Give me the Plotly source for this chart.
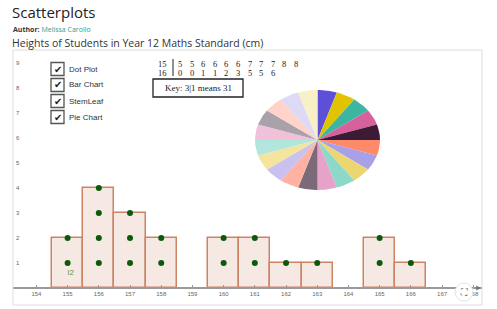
import math
import plotly.graph_objects as go

W, H = 497, 309

# data
heights = [155, 156, 157, 158, 160, 161, 162, 163, 165, 166]
counts = [2, 4, 3, 2, 2, 2, 1, 1, 2, 1]
x_ticks = list(range(154, 169))
y_ticks = list(range(1, 10))
options = ["Dot Plot", "Bar Chart", "StemLeaf", "Pie Chart"]
pie_colors = ["#5c50d8", "#e2c300", "#3cb6a0", "#d6619c", "#3b1b36",
              "#ff8a6a", "#a8a0e8", "#ecd672", "#8cd9c9", "#e6a2c9",
              "#7b6b79", "#ffb2a2", "#c9c1ee", "#f4e49e", "#b2e6dd",
              "#f0c2d9", "#aaa2ab", "#ffd2ca", "#dedaf6", "#f8f0c6"]


def px(x):
    return x / W


def py(y):
    return 1 - y / H


def label(x, y, text, size, color="#222222", family="Liberation Sans", xanchor="center"):
    return dict(x=px(x), y=py(y), xref="paper", yref="paper", text=text,
                showarrow=False, xanchor=xanchor, yanchor="middle", borderpad=0,
                font=dict(size=size, color=color, family=family))


# every student as one value
students = []
for h, c in zip(heights, counts):
    students += [h] * c

fig = go.Figure()

# bar chart
fig.add_trace(go.Bar(
    x=heights, y=counts, width=1,
    marker=dict(color="#f6e9e4", line=dict(color="#cd8464", width=1.5)),
    hoverinfo="skip", showlegend=False,
))

# dot plot
dx, dy = [], []
for h, c in zip(heights, counts):
    for k in range(1, c + 1):
        dx.append(h)
        dy.append(k)
fig.add_trace(go.Scatter(
    x=dx, y=dy, mode="markers",
    marker=dict(color="#0b5a0b", size=6), showlegend=False,
))

# label l2
fig.add_trace(go.Scatter(
    x=[155.1], y=[0.62], mode="text", text=["l2"],
    textfont=dict(color="#5a9a40", size=8, family="Liberation Sans"),
    showlegend=False,
))

# pie chart (one slice per student), drawn on its own axes
n = len(students)
for i in range(n):
    a0 = math.pi / 2 - 2 * math.pi * i / n
    a1 = math.pi / 2 - 2 * math.pi * (i + 1) / n
    xs, ys = [0], [0]
    for s in range(9):
        a = a0 + (a1 - a0) * s / 8
        xs.append(math.cos(a))
        ys.append(math.sin(a))
    xs.append(0)
    ys.append(0)
    fig.add_trace(go.Scatter(
        x=xs, y=ys, xaxis="x2", yaxis="y2", fill="toself",
        fillcolor=pie_colors[i], mode="lines", line=dict(width=0),
        hoverinfo="skip", showlegend=False,
    ))

shapes = []
annotations = []

# applet frame
shapes.append(dict(type="rect", xref="paper", yref="paper",
                   x0=px(13), x1=px(482), y0=py(305), y1=py(50),
                   line=dict(color="#dddddd", width=1)))

# checkboxes
for i, opt in enumerate(options):
    cy = 69 + 16 * i
    shapes.append(dict(type="rect", xref="paper", yref="paper",
                       x0=px(51), x1=px(64), y0=py(cy + 6.5), y1=py(cy - 6.5),
                       line=dict(color="#555555", width=1.3)))
    annotations.append(label(57.5, cy, "✔", 10, family="DejaVu Sans"))
    annotations.append(label(68, cy, opt, 8, color="#333333", xanchor="left"))

# stem and leaf
stems = sorted(set(s // 10 for s in students))
for r, st in enumerate(stems):
    leaves = [str(s % 10) for s in students if s // 10 == st]
    yy = 63.5 + 9 * r
    annotations.append(label(168, yy, str(st), 8.5, family="Liberation Serif", xanchor="right"))
    for j, lf in enumerate(leaves):
        annotations.append(label(180 + 11.6 * j, yy, lf, 8.5, family="Liberation Serif"))
shapes.append(dict(type="line", xref="paper", yref="paper",
                   x0=px(173), x1=px(173), y0=py(76), y1=py(59),
                   line=dict(color="#222222", width=1)))

# key box
shapes.append(dict(type="rect", xref="paper", yref="paper",
                   x0=px(153), x1=px(243), y0=py(97), y1=py(79),
                   line=dict(color="#222222", width=1.3)))
annotations.append(label(198, 88, "Key: 3|1 means 31", 9, family="Liberation Serif"))

# page headings
annotations.append(label(11, 12, "Scatterplots", 15, family="Open Sans", xanchor="left"))
annotations.append(label(12, 30, "<b>Author:</b> <span style='color:#2a9d8f'>Melissa Carollo</span>",
                         7, color="#333333", family="Open Sans", xanchor="left"))
annotations.append(label(11, 43, "Heights of Students in Year 12 Maths Standard (cm)",
                         10.5, color="#333333", family="Open Sans", xanchor="left"))

# axis arrow
annotations.append(dict(x=168.25, y=0, xref="x", yref="y", ax=-7, ay=0,
                        showarrow=True, arrowhead=2, arrowsize=0.8, arrowwidth=1.2,
                        arrowcolor="#777777", text=""))

# fullscreen button
shapes.append(dict(type="circle", xref="paper", yref="paper",
                   x0=px(455), x1=px(473), y0=py(301), y1=py(283),
                   fillcolor="white", line=dict(color="#e4e4e4", width=1)))
annotations.append(label(464, 292, "⛶", 9, color="#555555", family="DejaVu Sans"))

fig.update_layout(
    width=W, height=H,
    margin=dict(l=0, r=0, t=0, b=0),
    paper_bgcolor="white", plot_bgcolor="white",
    bargap=0,
    shapes=shapes, annotations=annotations,
    xaxis=dict(domain=[px(13), px(482)], range=[153.25, 168.28],
               anchor="free", position=py(288),
               tickvals=x_ticks, ticks="inside", ticklen=2, tickcolor="#999999",
               tickfont=dict(size=6, color="#666666", family="Liberation Sans"),
               showline=True, linecolor="#9a9a9a", linewidth=2,
               showgrid=False, zeroline=False, fixedrange=True),
    yaxis=dict(domain=[py(305), py(50)], range=[-0.68, 9.52],
               tickvals=y_ticks, ticklabelposition="inside",
               tickfont=dict(size=6, color="#666666", family="Liberation Sans"),
               showline=False, showgrid=False, zeroline=False, fixedrange=True),
    xaxis2=dict(domain=[px(255), px(380)], range=[-1, 1], anchor="y2",
                visible=False, fixedrange=True),
    yaxis2=dict(domain=[py(190), py(90)], range=[-1, 1], anchor="x2",
                visible=False, fixedrange=True),
    font=dict(family="Open Sans"),
)

fig.write_html("out.html", config={"displayModeBar": False},
               post_script="document.body.style.margin='0px';")
